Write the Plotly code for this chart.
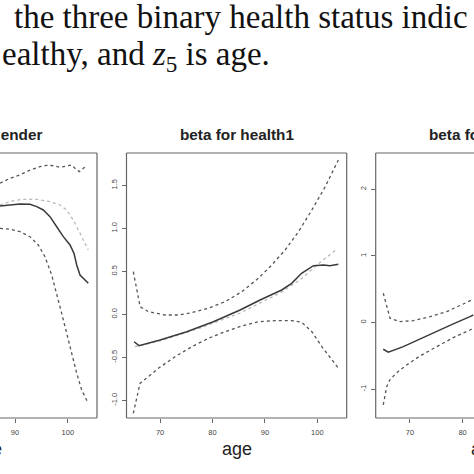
import plotly.graph_objects as go

# ---------------- data ----------------
# Panel 1: beta for gender (only right part visible)
g_age_up = [87.16, 89.05, 90.95, 92.84, 94.73, 96.31, 97.58, 98.52, 99.79, 100.74, 101.36, 102.18, 102.94, 103.69]
g_up = [0.880, 0.933, 0.968, 1.020, 1.055, 1.073, 1.063, 1.049, 1.063, 1.073, 1.038, 1.003, 1.038, 1.066]
g_age_est = [87.16, 89.05, 90.95, 92.84, 94.11, 95.36, 96.63, 97.90, 99.15, 100.42, 101.17, 101.69, 102.31, 103.26, 103.88]
g_est = [0.640, 0.651, 0.661, 0.658, 0.633, 0.598, 0.527, 0.421, 0.316, 0.228, 0.140, 0.017, -0.089, -0.142, -0.177]
g_age_true = [87.16, 89.68, 91.57, 94.11, 96.63, 98.52, 99.79, 101.04, 102.31, 103.26, 103.88]
g_true = [0.651, 0.696, 0.711, 0.711, 0.686, 0.651, 0.598, 0.492, 0.352, 0.246, 0.175]
g_age_lo = [87.16, 89.05, 90.95, 92.84, 94.41, 95.68, 96.95, 97.90, 98.84, 99.79, 100.74, 101.69, 102.63, 103.88]
g_lo = [0.404, 0.394, 0.369, 0.316, 0.228, 0.104, -0.089, -0.282, -0.494, -0.705, -0.916, -1.128, -1.304, -1.445]

# Panel 2: beta for health1
h1_age_up = [64.9, 65.55, 66.2, 67.8, 70.95, 73.5, 76.05, 79.2, 82.4, 85.6, 88.75, 91.3, 93.85, 96.4, 98.95, 101.5, 104.0]
h1_up = [0.495, 0.283, 0.088, 0.03, -0.008, -0.008, 0.019, 0.07, 0.147, 0.263, 0.419, 0.573, 0.748, 0.96, 1.213, 1.484, 1.794]
h1_age_est = [65.05, 65.99, 70.0, 75.1, 80.17, 85.27, 89.08, 93.2, 95.1, 97.0, 99.26, 101.2, 102.4, 104.0]
h1_est = [-0.319, -0.365, -0.299, -0.202, -0.086, 0.05, 0.166, 0.283, 0.36, 0.477, 0.565, 0.573, 0.565, 0.581]
h1_age_true = [65.2, 70.0, 77.6, 85.27, 92.9, 96.7, 99.9, 103.7]
h1_true = [-0.377, -0.31, -0.16, 0.015, 0.248, 0.4, 0.573, 0.756]
h1_age_lo = [64.9, 65.55, 66.18, 67.77, 69.68, 72.86, 76.05, 79.22, 82.4, 85.6, 88.76, 91.95, 95.13, 97.04, 98.95, 100.86, 102.77, 104.03]
h1_lo = [-1.151, -0.958, -0.802, -0.726, -0.628, -0.493, -0.377, -0.279, -0.202, -0.136, -0.086, -0.074, -0.074, -0.093, -0.202, -0.377, -0.531, -0.628]

# Panel 3: beta for health2 (only left part visible)
h2_age_up = [64.92, 65.57, 66.2, 68.1, 70.63, 73.8, 76.98, 80.13, 82.03]
h2_up = [0.441, 0.24, 0.066, 0.015, 0.03, 0.09, 0.165, 0.28, 0.35]
h2_age_est = [64.92, 65.87, 68.73, 71.9, 75.08, 78.23, 81.4, 82.03]
h2_est = [-0.399, -0.444, -0.36, -0.244, -0.135, -0.019, 0.09, 0.115]
h2_age_lo = [64.92, 65.57, 66.2, 67.47, 69.37, 71.9, 75.08, 78.23, 81.4, 82.03]
h2_lo = [-1.234, -0.96, -0.855, -0.75, -0.634, -0.5, -0.36, -0.225, -0.11, -0.084]

x_ticks = [70, 80, 90, 100]
h1_yticks = [-1.0, -0.5, 0.0, 0.5, 1.0, 1.5]
h1_yticktext = ["-1.0", "-0.5", "0.0", "0.5", "1.0", "1.5"]
h2_yticks = [-1, 0, 1, 2]
h2_yticktext = ["-1", "0", "1", "2"]
titles = ["beta for gender", "beta for health1", "beta for health2"]
xlabel = "age"
text_line1 = "the three binary health status indic"
text_line2 = "ealthy, and <i>z</i><sub>5</sub> is age."

# ---------------- figure ----------------
W = H = 474
SANS = "Liberation Sans, Arial, sans-serif"
SERIF = "Liberation Serif, Times New Roman, serif"
DARK = "#3a3a3a"
DASHC = "#555555"
DOTC = "#b8b8b8"
BOXC = "#666666"

def px(v):
    return v / W

def py(v):
    return 1 - v / H

fig = go.Figure()

panels = [
    dict(xa="x", ya="y", up=(g_age_up, g_up), est=(g_age_est, g_est), true=(g_age_true, g_true), lo=(g_age_lo, g_lo)),
    dict(xa="x2", ya="y2", up=(h1_age_up, h1_up), est=(h1_age_est, h1_est), true=(h1_age_true, h1_true), lo=(h1_age_lo, h1_lo)),
    dict(xa="x3", ya="y3", up=(h2_age_up, h2_up), est=(h2_age_est, h2_est), true=None, lo=(h2_age_lo, h2_lo)),
]
for p in panels:
    if p["true"] is not None:
        fig.add_trace(go.Scatter(x=p["true"][0], y=p["true"][1], xaxis=p["xa"], yaxis=p["ya"], mode="lines",
                                 line=dict(color=DOTC, width=1.3, dash="dot")))
    for key in ("up", "lo"):
        fig.add_trace(go.Scatter(x=p[key][0], y=p[key][1], xaxis=p["xa"], yaxis=p["ya"], mode="lines",
                                 line=dict(color=DASHC, width=1.3, dash="3px,3px")))
    fig.add_trace(go.Scatter(x=p["est"][0], y=p["est"][1], xaxis=p["xa"], yaxis=p["ya"], mode="lines",
                             line=dict(color=DARK, width=1.5)))

TOP, BOT = 153, 418
ydom = [py(BOT), py(TOP)]
axis_common = dict(showgrid=False, zeroline=False, showline=False, ticks="outside", ticklen=4,
                   tickcolor=BOXC, tickfont=dict(family=SANS, size=7.5, color="#444"))

fig.update_layout(
    width=W, height=H, margin=dict(l=0, r=0, t=0, b=0),
    paper_bgcolor="white", plot_bgcolor="white", showlegend=False,
    xaxis=dict(domain=[0, px(97)], range=[87.16, 105.53], tickvals=x_ticks, ticklabelstandoff=3, **axis_common),
    yaxis=dict(domain=ydom, range=[-1.6, 1.2], showticklabels=False, ticks="", showgrid=False, zeroline=False),
    xaxis2=dict(domain=[px(126.5), px(346.7)], range=[63.6, 105.6], tickvals=x_ticks, anchor="y2",
                ticklabelstandoff=3, **axis_common),
    yaxis2=dict(domain=ydom, range=[-1.206, 1.876], tickvals=h1_yticks, ticktext=h1_yticktext, tickangle=-90,
                anchor="x2", ticklabelstandoff=2, **axis_common),
    xaxis3=dict(domain=[px(375.7), 1], range=[63.48, 82.17], tickvals=x_ticks, anchor="y3",
                ticklabelstandoff=3, **axis_common),
    yaxis3=dict(domain=ydom, range=[-1.43, 2.544], tickvals=h2_yticks, ticktext=h2_yticktext, tickangle=-90,
                anchor="x3", ticklabelstandoff=2, **axis_common),
)

# plot boxes (drawn as separate edges; cut panels lack their off-screen edge)
def seg(x0, y0, x1, y1):
    fig.add_shape(type="line", xref="paper", yref="paper", x0=px(x0), y0=py(y0), x1=px(x1), y1=py(y1),
                  line=dict(color=BOXC, width=1.2), layer="above")

seg(0, TOP, 97, TOP); seg(97, TOP, 97, BOT); seg(0, BOT, 97, BOT)
seg(126.5, TOP, 346.7, TOP); seg(346.7, TOP, 346.7, BOT); seg(126.5, BOT, 346.7, BOT); seg(126.5, TOP, 126.5, BOT)
seg(375.7, TOP, 474, TOP); seg(375.7, BOT, 474, BOT); seg(375.7, TOP, 375.7, BOT)

centers = [-13.5, 236.5, 486]
for c, t in zip(centers, titles):
    fig.add_annotation(x=px(c), y=py(135), xref="paper", yref="paper", text="<b>" + t + "</b>",
                       showarrow=False, xanchor="center", yanchor="middle",
                       font=dict(family=SANS, size=15.3, color="#222"))
    fig.add_annotation(x=px(c), y=py(449), xref="paper", yref="paper", text=xlabel,
                       showarrow=False, xanchor="center", yanchor="middle",
                       font=dict(family=SANS, size=18, color="#222"))

fig.add_annotation(x=px(12), y=py(17), xref="paper", yref="paper", text=text_line1, showarrow=False,
                   xanchor="left", yanchor="middle", font=dict(family=SERIF, size=33, color="#111"))
fig.add_annotation(x=px(0), y=py(57), xref="paper", yref="paper", text=text_line2, showarrow=False,
                   xanchor="left", yanchor="middle", font=dict(family=SERIF, size=33, color="#111"))

fig.write_html("out.html")
